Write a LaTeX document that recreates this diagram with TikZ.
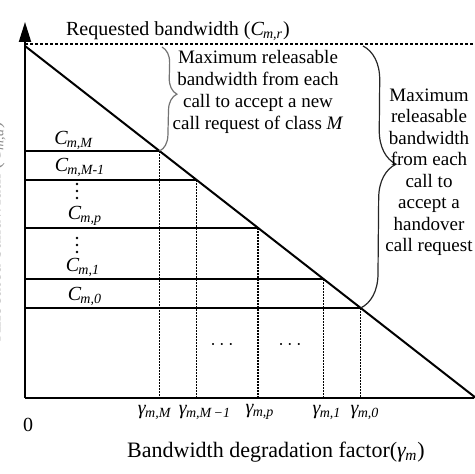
\documentclass[tikz,border=0pt]{standalone}
\usepackage{fontspec}
\setmainfont{Liberation Serif}
\usetikzlibrary{calc,arrows.meta,decorations.pathreplacing}
\newcommand{\symb}[2]{\textit{#1}\textsubscript{\kern-0.5pt\textit{#2}}}

\begin{document}
\begin{tikzpicture}[x=0.5pt, y=-0.5pt,
    axis/.style={line width=1pt},                          % axes and diagonal
    level/.style={line width=0.8pt},                       % class levels
    drop/.style={line width=0.8pt, dash pattern=on 0.8pt off 0.7pt},  % dotted drops
    lbl/.style={font=\fontsize{10}{11}\selectfont, inner sep=0pt},
    note/.style={align=center, inner sep=0pt},
    curly/.style={decorate, decoration={brace, amplitude=#1, aspect=0.45}, line width=0.6pt}]
  \useasboundingbox (0,0) rectangle (474,474);
  % axes
  \coordinate (o)    at (25,398);
  \coordinate (ytop) at (25,22);
  \coordinate (xend) at (474,398);
  \coordinate (d0)   at (25,46);
  \coordinate (d1)   at (476,398);
  \draw[axis, -{Triangle[length=10pt, width=6pt]}] (o) -- (ytop);
  \draw[axis] (o) -- (xend);
  \draw[axis] (d0) -- (d1);
  % requested bandwidth
  \coordinate (rq) at (474,44);
  \draw[line width=0.8pt, dash pattern=on 1.5pt off 1pt] (d0 |- rq) -- (rq);
  \node[lbl] (req) at (178,31) {Requested bandwidth (\symb{C}{m,r})};
  % class levels with drops to the axis
  \foreach \y/\k in {151/a, 180/b, 228/c, 279/d, 308/e}{
    \pgfmathsetmacro\t{(\y-46)/352}
    \coordinate (hit\k) at ($(d0)!\t!(d1)$);
    \coordinate (lft\k) at (25,\y);
    \draw[level] (lft\k) -- (hit\k);
    \draw[drop] (hit\k) -- (hit\k |- o);
  }
  % level names
  \node[lbl] (ca) at (74,140) {\symb{C}{m,M}};
  \node[lbl] (cb) at (80,167) {\symb{C}{m,M-1}};
  \node[lbl] (cc) at (85,216) {\symb{C}{m,p}};
  \node[lbl] (cd) at (83,267) {\symb{C}{m,1}};
  \node[lbl] (ce) at (85,296) {\symb{C}{m,0}};
  % vertical dots between levels
  \foreach \y in {184,191,198, 238,245,252}
    \fill (77,\y) circle[radius=0.7pt];
  % degradation factors
  \node[lbl] (ga) at (155,412) {\symb{γ}{m,M}};
  \node[lbl] (gb) at (205,412) {\symb{γ}{m,M\,−1}};
  \node[lbl] (gc) at (260,412) {\symb{γ}{m,p}};
  \node[lbl] (gd) at (327,412) {\symb{γ}{m,1}};
  \node[lbl] (ge) at (365,412) {\symb{γ}{m,0}};
  \node[lbl] (ha) at (222,345) {$\cdots$};
  \node[lbl] (hb) at (290,345) {$\cdots$};
  \node[lbl] (zero) at (28,425) {0};
  \node[font=\fontsize{11}{12}\selectfont, inner sep=0pt] (xlab) at (276,452)
    {Bandwidth degradation factor(\symb{γ}{m})};
  \node[lbl, rotate=90, anchor=south, text=black!45] (ylab) at (6,232)
    {Allocated bandwidth (\symb{C}{m,a})};
  % braces
  \coordinate (ib) at (162,47);
  \coordinate (ob) at (363,46);
  \draw[curly=8pt, black!55] (ib) -- (hita);
  \draw[curly=17pt, black!85] (ob) -- (hite);
  \node[note, font=\fontsize{9.5}{11}\selectfont] (inote) at (258,92)
    {Maximum releasable\\bandwidth from each\\call to accept a new\\call request of class \textit{M}};
  \node[note, font=\fontsize{9.5}{10.75}\selectfont] (onote) at (429,172)
    {Maximum\\releasable\\bandwidth\\from each\\call to\\accept a\\handover\\call request};
\end{tikzpicture}
\end{document}
